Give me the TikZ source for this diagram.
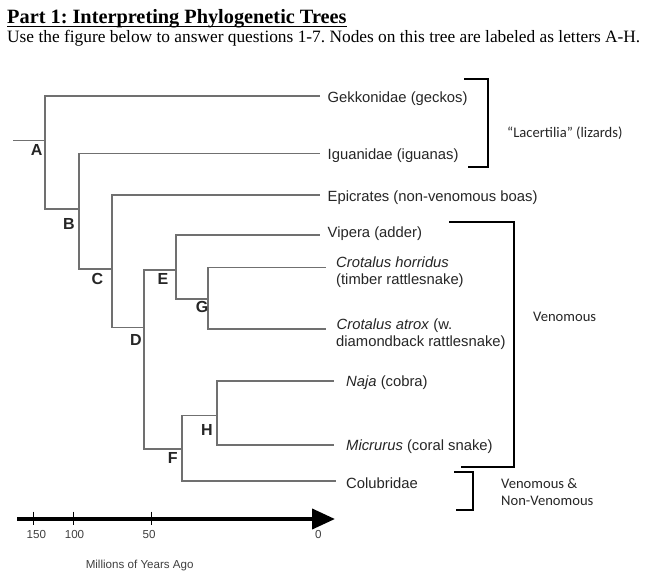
\documentclass[tikz,border=0pt]{standalone}
\usepackage{fontspec}
\usetikzlibrary{arrows.meta}
\newfontfamily\lsans{Liberation Sans}
\newfontfamily\lserif{Liberation Serif}
\newfontfamily\carl{Carlito}
\definecolor{treegray}{HTML}{707070}
\definecolor{txt}{HTML}{262626}
\frenchspacing
\tikzset{
  branch/.style={draw=treegray, line width=1.3pt},
  bracket/.style={draw=black, line width=2pt},
  leaf/.style={anchor=base west, inner sep=0pt, text=txt, font=\lsans\fontsize{14.8}{17}\selectfont},
  grp/.style={anchor=base west, inner sep=0pt, text=txt, font=\carl\fontsize{14.6}{17}\selectfont},
  nodelbl/.style={anchor=base, inner sep=0pt, text=txt, font=\lsans\bfseries\fontsize{16}{18}\selectfont},
  axlbl/.style={anchor=base, inner sep=0pt, text=black!75, font=\lsans\fontsize{11.6}{13}\selectfont},
}
\begin{document}
\begin{tikzpicture}[x=1pt, y=-1pt]
\useasboundingbox (0,0) rectangle (661,585);
\fill[white] (0,0) rectangle (661,585);
% title
\node[anchor=base west, inner sep=0pt, font=\lserif\bfseries\fontsize{20.3}{24}\selectfont] (title) at (7,24) {Part 1: Interpreting Phylogenetic Trees};
\draw[line width=1.3pt] ([yshift=-2.7pt]title.base west) -- ([yshift=-2.7pt]title.base east);
\node[anchor=base west, inner sep=0pt, font=\lserif\fontsize{17.35}{20}\selectfont] (intro) at (7,42.7) {Use the figure below to answer questions 1-7. Nodes on this tree are labeled as letters A-H.};
% tree coordinates
\coordinate (r0) at (13,140.7);
\coordinate (nA) at (45,140.7);
\coordinate (nB) at (79,209);
\coordinate (nC) at (112,269);
\coordinate (nD) at (144,327.7);
\coordinate (nE) at (176,270);
\coordinate (nG) at (208,299);
\coordinate (nF) at (182,449);
\coordinate (nH) at (217,415.7);
\coordinate (tGek) at (320,96);
\coordinate (tIgu) at (320,153.3);
\coordinate (tEpi) at (320,195);
\coordinate (tVip) at (320,235);
\coordinate (tCh) at (326,267.3);
\coordinate (tCa) at (326,329);
\coordinate (tNaja) at (334,381);
\coordinate (tMic) at (334,445);
\coordinate (tCol) at (336,481);
% branches
\draw[branch] (r0) -- (nA);
\draw[branch] (nA) |- (tGek);
\draw[branch] (nA) |- (nB);
\draw[branch] (nB) |- (tIgu);
\draw[branch] (nB) |- (nC);
\draw[branch] (nC) |- (tEpi);
\draw[branch] (nC) |- (nD);
\draw[branch] (nD) |- (nE);
\draw[branch] (nD) |- (nF);
\draw[branch] (nE) |- (tVip);
\draw[branch] (nE) |- (nG);
\draw[branch] (nG) |- (tCh);
\draw[branch] (nG) |- (tCa);
\draw[branch] (nF) |- (nH);
\draw[branch] (nF) |- (tCol);
\draw[branch] (nH) |- (tNaja);
\draw[branch] (nH) |- (tMic);
% node letters
\node[nodelbl] (lA) at (36.7,156) {A};
\node[nodelbl] (lB) at (69,230) {B};
\node[nodelbl] (lC) at (97.5,284.3) {C};
\node[nodelbl] (lD) at (136,345.5) {D};
\node[nodelbl] (lE) at (163,285) {E};
\node[nodelbl] (lF) at (172.7,463.3) {F};
\node[nodelbl] (lG) at (202,312.3) {G};
\node[nodelbl] (lH) at (207,435.5) {H};
% leaf labels
\node[leaf] (gek) at (327.5,102.5) {Gekkonidae (geckos)};
\node[leaf] (igu) at (327.5,160) {Iguanidae (iguanas)};
\node[leaf] (epi) at (327.5,201.7) {Epicrates (non-venomous boas)};
\node[leaf] (vip) at (327.5,237.7) {Vipera (adder)};
\node[leaf] (ch1) at (336,268) {\itshape Crotalus horridus};
\node[leaf] (ch2) at (336,284.5) {(timber rattlesnake)};
\node[leaf] (ca1) at (336.5,329) {\textit{Crotalus atrox} (w.};
\node[leaf] (ca2) at (336,346) {diamondback rattlesnake)};
\node[leaf] (naja) at (346,386) {\textit{Naja} (cobra)};
\node[leaf] (mic) at (346,450) {\textit{Micrurus} (coral snake)};
\node[leaf] (col) at (346,488.3) {Colubridae};
% brackets
\draw[bracket] (464,79.3) -- (487.7,79.3) -- (487.7,167.3) -- (468,167.3);
\draw[bracket] (449,222) -- (514.3,222) -- (514.3,466.7) -- (461,466.7);
\draw[bracket] (454,472.3) -- (472.7,472.3) -- (472.7,510) -- (456,510);
\node[grp] (liz) at (507,137.7) {“Lacertilia” (lizards)};
\node[grp] (ven) at (533,321.7) {Venomous};
\node[grp] (vn1) at (501,488.3) {Venomous \&};
\node[grp] (vn2) at (501,505.7) {Non-Venomous};
% time axis
\coordinate (ax0) at (17,519);
\coordinate (ax1) at (335,519);
\draw[line width=4pt, -{Triangle[length=23pt,width=20pt]}] (ax0) -- (ax1);
\foreach \x in {33.7, 73.7, 151}{
  \draw[line width=1pt] (\x,511.7) -- (\x,525);
}
\node[axlbl] (a150) at (36.3,538.3) {150};
\node[axlbl] (a100) at (74.5,538.3) {100};
\node[axlbl] (a50) at (149,538.3) {50};
\node[axlbl] (a0) at (318.3,538.3) {0};
\node[axlbl] (mya) at (139.7,568.3) {Millions of Years Ago};
\end{tikzpicture}
\end{document}
